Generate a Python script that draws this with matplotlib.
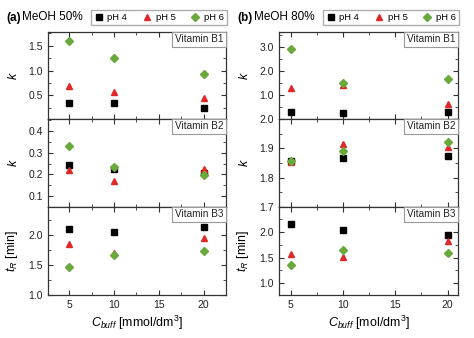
import matplotlib
matplotlib.use("Agg")
import matplotlib.pyplot as plt
from matplotlib.ticker import MultipleLocator, AutoMinorLocator

plt.rcParams['font.family'] = ['Liberation Sans', 'DejaVu Sans']
plt.rcParams['mathtext.fontset'] = 'custom'
plt.rcParams['mathtext.rm'] = 'Liberation Sans'
plt.rcParams['mathtext.it'] = 'Liberation Sans:italic'

C_BUFF = [5, 10, 20]
SERIES = ["pH 4", "pH 5", "pH 6"]
VITAMINS = ["Vitamin B1", "Vitamin B2", "Vitamin B3"]

# MeOH 50 %
A_B1 = {"pH 4": [0.35, 0.34, 0.25], "pH 5": [0.68, 0.56, 0.45], "pH 6": [1.60, 1.25, 0.93]}
A_B2 = {"pH 4": [0.245, 0.225, 0.207], "pH 5": [0.222, 0.170, 0.225], "pH 6": [0.330, 0.235, 0.198]}
A_B3 = {"pH 4": [2.10, 2.04, 2.12], "pH 5": [1.85, 1.70, 1.95], "pH 6": [1.46, 1.66, 1.73]}

# MeOH 80 %
B_B1 = {"pH 4": [0.30, 0.24, 0.30], "pH 5": [1.28, 1.42, 0.65], "pH 6": [2.90, 1.49, 1.68]}
B_B2 = {"pH 4": [1.858, 1.867, 1.873], "pH 5": [1.853, 1.914, 1.905], "pH 6": [1.857, 1.892, 1.920]}
B_B3 = {"pH 4": [2.15, 2.04, 1.95], "pH 5": [1.57, 1.52, 1.83], "pH 6": [1.35, 1.65, 1.60]}

STYLE = {"pH 4": dict(marker="s", color="black"),
         "pH 5": dict(marker="^", color="#e02828"),
         "pH 6": dict(marker="D", color="#6aaa3c")}

W, H = 474, 338


def px_axes(fig, x0, y0, x1, y1):
    return fig.add_axes([x0 / W, 1 - y1 / H, (x1 - x0) / W, (y1 - y0) / H])


def style_axes(ax, xlim, ylim, ymajor, labelx):
    ax.set_xlim(*xlim)
    ax.set_ylim(*ylim)
    ax.xaxis.set_major_locator(MultipleLocator(5))
    ax.xaxis.set_minor_locator(MultipleLocator(2.5))
    ax.yaxis.set_major_locator(MultipleLocator(ymajor))
    ax.yaxis.set_minor_locator(AutoMinorLocator(2))
    ax.yaxis.set_major_formatter(plt.FormatStrFormatter("%.1f"))
    ax.tick_params(which="both", direction="in", top=True, right=True,
                   labelsize=7.5, colors="#333333", labelcolor="#222222")
    ax.tick_params(which="major", length=3.5)
    ax.tick_params(which="minor", length=2)
    ax.tick_params(axis="x", labelbottom=labelx)
    for s in ax.spines.values():
        s.set_color("#333333")
        s.set_linewidth(0.9)


def draw_panel(fig, x0, x1, xlim, data, ylims, ymajors, ylabels, xlabel):
    rows = [(32, 119), (119, 207), (207, 295)]
    axes = []
    for i, (y0, y1) in enumerate(rows):
        ax = px_axes(fig, x0, y0, x1, y1)
        style_axes(ax, xlim, ylims[i], ymajors[i], i == 2)
        for s in SERIES:
            ax.plot(C_BUFF, data[i][s], linestyle="none",
                    markersize=4.6 if s != "pH 6" else 4.2, label=s, **STYLE[s])
        ax.text(0.985, 0.975, VITAMINS[i], transform=ax.transAxes, ha="right", va="top",
                fontsize=7.2, color="#222222",
                bbox=dict(boxstyle="square,pad=0.25", fc="white", ec="#999999", lw=0.8))
        ax.set_ylabel(ylabels[i], fontsize=9)
        ax.yaxis.set_label_coords(-0.155, 0.5)
        axes.append(ax)
    axes[2].set_xlabel(xlabel, fontsize=9, labelpad=3)
    handles, labels = axes[0].get_legend_handles_labels()
    fig.legend(handles, labels, ncol=3, fontsize=6.8, frameon=True, fancybox=False,
               edgecolor="#999999", loc="center right",
               bbox_to_anchor=((x1 + 1) / W, 1 - 17.5 / H),
               handletextpad=0.4, columnspacing=1.6, borderpad=0.35,
               handlelength=1.0, borderaxespad=0)
    return axes


fig = plt.figure(figsize=(W / 100, H / 100), dpi=100)

draw_panel(fig, 47.7, 226, (2.6, 22.5), [A_B1, A_B2, A_B3],
           [(0.02, 1.78), (0.05, 0.455), (1.0, 2.46)], [0.5, 0.1, 0.5],
           ["$k$", "$k$", "$t_R$ [min]"], "$C_{buff}$ [mmol/dm$^3$]")
draw_panel(fig, 279, 458, (3.9, 21.0), [B_B1, B_B2, B_B3],
           [(0.01, 3.62), (1.7, 2.0), (0.77, 2.49)], [1.0, 0.1, 0.5],
           ["$k$", "$k$", "$t_R$ [min]"], "$C_{buff}$ [mol/dm$^3$]")

fig.text(6 / W, 1 - 17.5 / H, "(a)", fontsize=8.5, fontweight="bold", va="center")
fig.text(22 / W, 1 - 17.5 / H, "MeOH 50%", fontsize=8.5, va="center")
fig.text(237 / W, 1 - 17.5 / H, "(b)", fontsize=8.5, fontweight="bold", va="center")
fig.text(254 / W, 1 - 17.5 / H, "MeOH 80%", fontsize=8.5, va="center")

fig.savefig("out.png", dpi=100)
